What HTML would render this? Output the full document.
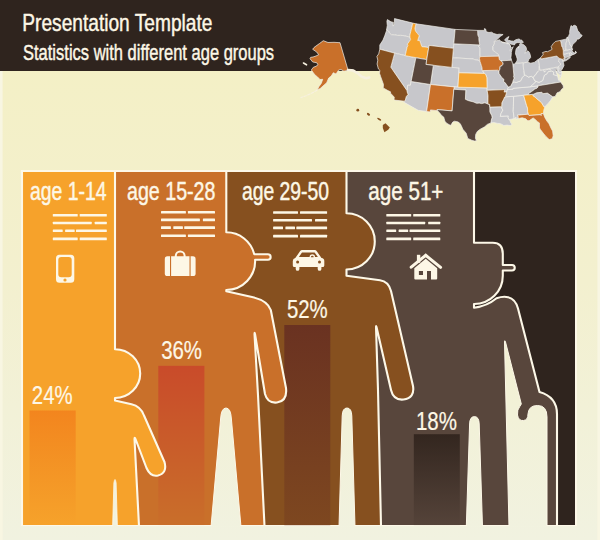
<!DOCTYPE html>
<html><head><meta charset="utf-8"><title>Presentation Template</title>
<style>html,body{margin:0;padding:0;background:#f4f0cc;}body{width:600px;height:540px;overflow:hidden;position:relative;font-family:"Liberation Sans",sans-serif;}</style>
</head><body>
<svg width="600" height="540" viewBox="0 0 600 540" style="display:block;position:absolute;left:0;top:0">
<defs>
<linearGradient id="bg" gradientUnits="userSpaceOnUse" x1="0" y1="71" x2="0" y2="540">
<stop offset="0" stop-color="#f4f0c6"/><stop offset="0.45" stop-color="#f3f0cf"/><stop offset="1" stop-color="#f1f2e0"/>
</linearGradient>
<linearGradient id="b1" x1="0" y1="0" x2="0" y2="1"><stop offset="0" stop-color="#f3851e"/><stop offset="1" stop-color="#f0871f" stop-opacity="0"/></linearGradient>
<linearGradient id="b2" x1="0" y1="0" x2="0" y2="1"><stop offset="0" stop-color="#c94b2a"/><stop offset="1" stop-color="#c94b2a" stop-opacity="0.04"/></linearGradient>
<linearGradient id="b3" x1="0" y1="0" x2="0" y2="1"><stop offset="0" stop-color="#6a3221"/><stop offset="1" stop-color="#6a3221" stop-opacity="0.3"/></linearGradient>
<linearGradient id="b4" x1="0" y1="0" x2="0" y2="1"><stop offset="0" stop-color="#33261f"/><stop offset="1" stop-color="#33261f" stop-opacity="0.08"/></linearGradient>
</defs>
<rect width="600" height="540" fill="url(#bg)"/>
<rect width="600" height="71" fill="#2f241e"/>

<rect x="22" y="171" width="554" height="355" fill="#2f241e" stroke="#fdf8e8" stroke-width="2"/>
<path d="M22,171 H474 V242.8 H492.8 Q502.8,242.8 502.8,253.7 V265 H512 A2.75,2.75 0 0 1 512,270.5 H502.8 V275.7 A28.6,28.3 0 0 1 474,304 V307.8 Q487,306.2 496.5,298.3 Q503,296 508,297.2 Q515.5,299 518,308.5 L539.5,392 Q557,397 557,414 V526 H22 Z" fill="#58463c" stroke="#fdf8e8" stroke-width="2.1" stroke-linejoin="round"/>
<path d="M509,527 L504.5,342 Q504.6,339.5 505.5,342 L521.3,404 L519.8,406.5 Q517,409.5 517.5,415 Q518.5,421 523.5,420.5 Q528,420 528,414 Q528.5,405.5 537.5,405.5 Q547,405.5 547,417 V527 Z" fill="url(#bg)" stroke="#fdf8e8" stroke-width="1"/>
<path d="M466.3,527 L469.6,424 Q469.8,416.6 474.4,416.6 Q479,416.6 479.2,424 L482.5,527 Z" fill="url(#bg)" stroke="#fdf8e8" stroke-width="1"/>
<rect x="413.8" y="434.2" width="46" height="91.3" fill="url(#b4)"/>
<path d="M22,171 H346.5 V213.3 A28.3,28.1 0 0 1 346.5,269.5 V275.8 L380,280.3 Q388.5,281.5 391,291 L413,386 Q415,398 403.5,399.5 Q393.5,400.5 391,390 L376.5,327 Q376,325 376,327 L378,390 L381,526 H22 Z" fill="#86501f" stroke="#fdf8e8" stroke-width="2.1" stroke-linejoin="round"/>
<path d="M339,527 L342.2,416 Q342.4,408 347,408 Q351.6,408 351.8,416 L355,527 Z" fill="url(#bg)" stroke="#fdf8e8" stroke-width="1"/>
<rect x="284.3" y="325" width="46" height="200.5" fill="url(#b3)"/>
<path d="M22,171 H226.3 V232.3 A28.85,28.85 0 0 1 254.3,254.3 H267.9 A2.75,2.75 0 0 1 267.9,259.8 H255.1 A28.85,28.85 0 0 1 226.3,290 V291.3 L252,297 Q267.5,300.5 270.8,310 L286,388 Q287.5,401 277,402.5 Q267.5,403.5 265,394 L255,334 Q254.5,331.5 254.5,334 L258,395 L264.5,526 H22 Z" fill="#c9702a" stroke="#fdf8e8" stroke-width="2.1" stroke-linejoin="round"/>
<path d="M211,527 L220.6,419 Q221.2,408 226,408 Q230.8,408 231.4,419 L241,527 Z" fill="url(#bg)" stroke="#fdf8e8" stroke-width="1"/>
<rect x="158.3" y="365.8" width="46.1" height="159.7" fill="url(#b2)"/>
<path d="M22,171 H115 V349.2 A25.2,24.4 0 0 1 115,398 V400.4 L131.5,404.3 Q140.5,406.3 144,415.5 L164.5,462 Q167.5,473 158,475.5 Q150.5,477 146.5,468 L135.5,439 Q134.5,436.5 134.5,439 L139,526 H22 Z" fill="#f6a22b" stroke="#fdf8e8" stroke-width="2.1" stroke-linejoin="round"/>
<path d="M112.6,527 L113.9,483 Q115,476 116.1,483 L117.4,527 Z" fill="url(#bg)" stroke="#fdf8e8" stroke-width="0.8"/>
<rect x="29.5" y="410.5" width="46.2" height="115" fill="url(#b1)"/>
<rect x="0" y="526.1" width="600" height="16" fill="url(#bg)"/>
<rect x="0" y="71" width="2.6" height="470" fill="#f8f6e2"/><rect x="597.4" y="71" width="2.6" height="470" fill="#f8f6e2"/>
<g font-family="Liberation Sans, sans-serif" fill="#fdf7e6" stroke="#fdf7e6" stroke-linejoin="round">
<text x="22.32" y="31.20" font-size="24.5" textLength="190.07" lengthAdjust="spacingAndGlyphs" stroke-width="0.45">Presentation Template</text>
<text x="23.01" y="59.60" font-size="22.5" textLength="251.13" lengthAdjust="spacingAndGlyphs" stroke-width="0.45">Statistics with different age groups</text>
<text x="29.93" y="200.00" font-size="25" textLength="76.66" lengthAdjust="spacingAndGlyphs" stroke-width="0.45">age 1-14</text>
<text x="127.01" y="200.00" font-size="25" textLength="88.44" lengthAdjust="spacingAndGlyphs" stroke-width="0.45">age 15-28</text>
<text x="241.94" y="199.90" font-size="25" textLength="87.10" lengthAdjust="spacingAndGlyphs" stroke-width="0.45">age 29-50</text>
<text x="368.28" y="200.00" font-size="25" textLength="75.15" lengthAdjust="spacingAndGlyphs" stroke-width="0.45">age 51+</text>
<text x="31.83" y="403.70" font-size="25" textLength="40.83" lengthAdjust="spacingAndGlyphs" stroke-width="0.2">24%</text>
<text x="161.13" y="359.30" font-size="25" textLength="40.82" lengthAdjust="spacingAndGlyphs" stroke-width="0.2">36%</text>
<text x="286.89" y="317.70" font-size="25" textLength="40.86" lengthAdjust="spacingAndGlyphs" stroke-width="0.2">52%</text>
<text x="415.89" y="429.60" font-size="25" textLength="41.02" lengthAdjust="spacingAndGlyphs" stroke-width="0.2">18%</text>
</g>
<g fill="#fdf7e6"><rect x="52.8" y="214.0" width="24.9" height="2.6" rx="0.5"/><rect x="79.7" y="214.0" width="27.1" height="2.6" rx="0.5"/><rect x="52.8" y="221.7" width="38.9" height="2.6" rx="0.5"/><rect x="94.7" y="221.7" width="12.1" height="2.6" rx="0.5"/><rect x="52.8" y="229.4" width="9.9" height="2.6" rx="0.5"/><rect x="65.1" y="229.4" width="9.6" height="2.6" rx="0.5"/><rect x="76.0" y="229.4" width="30.8" height="2.6" rx="0.5"/><rect x="52.8" y="237.6" width="24.9" height="2.6" rx="0.5"/><rect x="79.7" y="237.6" width="27.1" height="2.6" rx="0.5"/></g>
<g fill="#fdf7e6"><rect x="161.0" y="210.9" width="24.9" height="2.6" rx="0.5"/><rect x="187.9" y="210.9" width="27.1" height="2.6" rx="0.5"/><rect x="161.0" y="218.6" width="38.9" height="2.6" rx="0.5"/><rect x="202.9" y="218.6" width="12.1" height="2.6" rx="0.5"/><rect x="161.0" y="226.3" width="9.9" height="2.6" rx="0.5"/><rect x="173.3" y="226.3" width="9.6" height="2.6" rx="0.5"/><rect x="184.2" y="226.3" width="30.8" height="2.6" rx="0.5"/><rect x="161.0" y="234.5" width="24.9" height="2.6" rx="0.5"/><rect x="187.9" y="234.5" width="27.1" height="2.6" rx="0.5"/></g>
<g fill="#fdf7e6"><rect x="273.1" y="211.2" width="24.9" height="2.6" rx="0.5"/><rect x="300.0" y="211.2" width="27.1" height="2.6" rx="0.5"/><rect x="273.1" y="218.9" width="38.9" height="2.6" rx="0.5"/><rect x="315.0" y="218.9" width="12.1" height="2.6" rx="0.5"/><rect x="273.1" y="226.6" width="9.9" height="2.6" rx="0.5"/><rect x="285.4" y="226.6" width="9.6" height="2.6" rx="0.5"/><rect x="296.3" y="226.6" width="30.8" height="2.6" rx="0.5"/><rect x="273.1" y="234.8" width="24.9" height="2.6" rx="0.5"/><rect x="300.0" y="234.8" width="27.1" height="2.6" rx="0.5"/></g>
<g fill="#fdf7e6"><rect x="386.3" y="214.0" width="24.9" height="2.6" rx="0.5"/><rect x="413.2" y="214.0" width="27.1" height="2.6" rx="0.5"/><rect x="386.3" y="221.7" width="38.9" height="2.6" rx="0.5"/><rect x="428.2" y="221.7" width="12.1" height="2.6" rx="0.5"/><rect x="386.3" y="229.4" width="9.9" height="2.6" rx="0.5"/><rect x="398.6" y="229.4" width="9.6" height="2.6" rx="0.5"/><rect x="409.5" y="229.4" width="30.8" height="2.6" rx="0.5"/><rect x="386.3" y="237.6" width="24.9" height="2.6" rx="0.5"/><rect x="413.2" y="237.6" width="27.1" height="2.6" rx="0.5"/></g>
<path fill="#fdf7e6" fill-rule="evenodd" d="M59.5,254.7 H70.8 A3.5,3.5 0 0 1 74.3,258.2 V279.3 A3.5,3.5 0 0 1 70.8,282.8 H59.5 A3.5,3.5 0 0 1 56,279.3 V258.2 A3.5,3.5 0 0 1 59.5,254.7 Z M61.3,256.9 A3,3 0 0 0 58.3,259.9 V274.3 A3,3 0 0 0 61.3,277.3 H68.7 A3,3 0 0 0 71.7,274.3 V259.9 A3,3 0 0 0 68.7,256.9 Z"/>
<circle cx="65" cy="280" r="1.6" fill="#f6a22b"/>
<rect x="164.8" y="256.3" width="30.8" height="19.7" rx="2.6" fill="#fdf7e6"/>
<rect x="170" y="256" width="1.1" height="20.3" fill="#c9702a"/><rect x="189.5" y="256" width="1.1" height="20.3" fill="#c9702a"/>
<path d="M175.8,257 V255.8 A4.4,4.4 0 0 1 184.6,255.8 V257" fill="none" stroke="#fdf7e6" stroke-width="2"/>
<path fill="#fdf7e6" d="M295.3,258.1 L300,251.2 Q300.8,250 302.2,250 H314.6 Q316,250 316.8,251.2 L321.5,258.1 Q324.3,258.6 324.3,261 V265.5 Q324.3,267 322.8,267 H321.4 V269 A1.85,1.85 0 0 1 317.7,269 V267 H299.4 V269 A1.85,1.85 0 0 1 295.7,269 V267 H294.3 Q292.8,267 292.8,265.5 V261 Q292.8,258.6 295.3,258.1 Z"/>
<path fill="#86501f" d="M298.9,257 L302,252.4 H314.6 L317.9,257 H315 A2.7,2.7 0 0 0 309.6,257 Z"/>
<path d="M310.9,257.2 A1.4,1.4 0 0 1 313.7,257.2 Z" fill="#86501f"/>
<circle cx="297.6" cy="262" r="1.5" fill="#86501f"/><circle cx="319.5" cy="262" r="1.5" fill="#86501f"/>
<path d="M411.2,267.2 L425.7,255.3 L440.6,267.4" fill="none" stroke="#fdf7e6" stroke-width="3" stroke-linecap="round" stroke-linejoin="miter"/>
<rect x="416.9" y="254.8" width="3.4" height="8" fill="#fdf7e6"/>
<path fill="#fdf7e6" fill-rule="evenodd" d="M414.3,268.2 L425.7,258.8 L437.2,268.2 V278.6 Q437.2,279.6 436.2,279.6 H431 V271 H427 V279.6 H415.3 Q414.3,279.6 414.3,278.6 Z M418.9,270.9 H423 V275 H418.9 Z"/>
<g stroke="#f0efea" stroke-width="0.7" stroke-linejoin="round">
<path d="M387.4,19.6 L390.9,21.8 L393.4,22.4 L393.1,26.1 L394.3,23.9 L394.5,18.6 L412.8,23.1 L409.9,35.1 L409.9,37.1 L402.9,35.5 L400.8,35.4 L397.2,35.4 L394.2,34.8 L391.3,34.7 L389.7,33.5 L388.5,31.0 L386.6,29.9 L386.9,27.8 L387.3,25.4 L386.9,21.3Z" fill="#c7c7cb"/>
<path d="M386.6,29.9 L388.5,31.0 L389.7,33.5 L391.3,34.7 L394.2,34.8 L397.2,35.4 L400.8,35.4 L402.9,35.5 L409.9,37.1 L410.6,39.6 L409.1,41.8 L407.3,44.1 L407.9,45.4 L407.1,47.2 L405.2,55.7 L379.8,49.2 L379.8,45.0 L383.0,40.1 L384.8,35.6 L386.7,30.2Z" fill="#c7c7cb"/>
<path d="M394.6,53.2 L415.9,57.8 L411.1,81.5 L410.4,85.2 L407.7,85.2 L407.5,85.7 L407.3,89.9 L406.9,90.5 L390.8,67.2Z" fill="#c7c7cb"/>
<path d="M428.7,47.9 L427.1,47.3 L424.4,46.9 L421.9,46.7 L420.8,43.8 L419.7,40.5 L417.7,40.6 L419.2,35.8 L417.6,33.7 L415.5,31.2 L414.9,28.5 L416.0,23.8 L455.1,29.4 L453.4,48.3 L429.1,45.4Z" fill="#c7c7cb"/>
<path d="M433.3,65.4 L459.2,67.9 L457.9,87.2 L430.5,84.5Z" fill="#c7c7cb"/>
<path d="M411.1,81.5 L430.5,84.5 L426.6,111.5 L418.2,110.3 L403.7,102.1 L404.4,101.2 L405.4,100.0 L406.2,96.7 L408.2,94.3 L407.5,93.3 L406.9,90.5 L407.3,89.9 L407.5,85.7 L407.7,85.2 L410.4,85.2 L411.1,81.5Z" fill="#c7c7cb"/>
<path d="M453.8,43.8 L479.7,44.9 L478.7,46.6 L480.1,48.0 L480.0,56.6 L479.5,58.5 L480.0,61.4 L478.0,60.1 L474.8,59.7 L472.6,58.9 L452.6,57.8Z" fill="#c7c7cb"/>
<path d="M452.6,57.8 L472.6,58.9 L474.8,59.7 L478.0,60.1 L480.0,61.4 L481.3,65.3 L482.0,67.7 L482.2,70.1 L482.5,70.6 L484.3,73.4 L458.9,72.8 L459.2,67.9 L451.8,67.4Z" fill="#c7c7cb"/>
<path d="M454.2,86.9 L487.1,87.9 L487.1,90.3 L488.0,95.6 L487.9,104.0 L487.9,104.0 L484.9,102.8 L481.7,103.6 L479.2,103.1 L476.7,103.3 L474.7,102.5 L473.1,101.8 L468.6,100.7 L465.4,99.3 L465.8,90.0 L454.0,89.3Z" fill="#c7c7cb"/>
<path d="M479.7,44.9 L478.9,40.4 L478.8,37.5 L477.8,35.1 L477.6,30.4 L484.5,30.4 L484.4,28.6 L485.6,29.0 L486.3,31.8 L489.0,32.5 L491.6,32.2 L493.7,33.5 L497.1,34.5 L499.2,34.2 L503.1,34.5 L500.2,36.5 L497.0,39.6 L495.0,40.8 L494.3,41.3 L494.4,44.0 L493.0,46.4 L493.1,50.4 L495.8,52.3 L498.6,54.5 L498.8,56.2 L480.0,56.6 L480.1,48.0 L478.7,46.6 L479.7,44.9Z" fill="#c7c7cb"/>
<path d="M482.5,70.6 L497.6,70.2 L498.9,71.1 L499.0,73.4 L500.5,75.6 L501.9,77.7 L504.0,79.4 L503.5,81.5 L505.3,82.8 L507.0,85.6 L508.6,87.0 L507.4,89.5 L506.7,91.9 L504.1,92.1 L504.8,89.6 L487.1,90.3 L486.9,77.8 L485.8,74.6 L484.3,73.4 L482.5,70.6Z" fill="#c7c7cb"/>
<path d="M489.8,107.1 L501.7,106.7 L502.1,109.1 L503.0,110.0 L501.0,113.4 L500.3,116.3 L508.3,115.9 L508.1,117.8 L509.1,119.7 L510.0,120.4 L510.6,122.5 L512.0,124.3 L510.4,125.6 L507.3,125.1 L503.8,125.5 L502.0,124.4 L499.8,123.5 L497.7,123.4 L493.7,122.5 L490.9,122.9 L491.3,120.0 L492.1,117.6 L491.8,115.7 L489.9,111.9 L489.8,107.1Z" fill="#c7c7cb"/>
<path d="M504.7,96.9 L513.1,96.3 L513.6,96.8 L513.4,106.4 L513.2,111.2 L514.2,118.6 L509.1,119.7 L508.1,117.8 L508.3,115.9 L500.3,116.3 L501.0,113.4 L503.0,110.0 L502.1,109.1 L501.7,106.7 L501.8,104.7 L501.9,102.8 L503.7,99.2Z" fill="#c7c7cb"/>
<path d="M513.1,96.3 L523.6,95.3 L526.5,105.3 L527.5,108.0 L527.7,111.6 L528.3,114.2 L517.3,115.2 L518.3,116.8 L518.0,118.6 L515.9,119.1 L516.0,117.0 L515.4,118.3 L514.2,118.6 L513.2,111.2 L513.4,106.4 L513.6,96.8Z" fill="#c7c7cb"/>
<path d="M544.9,107.0 L543.8,106.8 L541.5,102.8 L539.2,100.8 L538.1,99.9 L535.0,97.1 L532.8,95.7 L533.6,94.2 L533.6,94.2 L536.6,92.8 L541.6,92.3 L542.1,92.5 L542.9,93.7 L547.4,93.1 L552.8,96.8 L550.7,100.3 L548.3,103.2 L546.3,105.2Z" fill="#c7c7cb"/>
<path d="M507.4,89.5 L513.0,89.1 L512.9,88.3 L530.2,86.8 L538.0,85.8 L538.0,87.0 L536.9,88.2 L534.8,89.0 L533.0,90.5 L531.6,91.6 L529.7,92.7 L528.6,93.8 L528.7,94.8 L513.1,96.3 L504.7,96.9 L505.5,96.2 L506.7,91.9Z" fill="#c7c7cb"/>
<path d="M508.6,87.0 L510.7,86.3 L511.3,84.8 L512.5,82.8 L514.2,81.9 L516.2,82.5 L518.5,81.6 L520.4,81.1 L521.2,79.7 L522.3,77.4 L524.3,75.4 L525.5,75.2 L528.4,77.1 L531.4,76.3 L533.2,77.6 L534.8,80.8 L536.2,81.4 L533.0,84.5 L530.2,86.8 L512.9,88.3 L513.0,89.1 L507.4,89.5Z" fill="#c7c7cb"/>
<path d="M560.7,82.0 L538.0,85.8 L530.2,86.8 L533.0,84.5 L536.2,81.4 L539.0,82.4 L542.7,80.6 L544.3,75.3 L547.0,73.7 L548.4,71.4 L550.6,71.3 L550.8,70.3 L551.9,71.2 L553.8,72.1 L553.4,74.6 L555.0,75.0 L557.6,76.0 L558.5,80.2 L559.8,80.3Z" fill="#c7c7cb"/>
<path d="M559.7,79.2 L560.0,75.2 L561.5,74.5 L560.7,77.3Z" fill="#c7c7cb"/>
<path d="M533.2,77.6 L534.6,75.3 L536.0,74.4 L536.5,73.0 L538.7,70.5 L539.0,68.7 L539.0,66.1 L539.3,65.9 L540.0,70.2 L543.9,69.6 L544.4,72.1 L545.7,70.5 L546.7,69.5 L548.7,68.9 L550.2,69.1 L550.8,70.3 L550.8,70.3 L550.6,71.3 L548.4,71.4 L547.0,73.7 L544.3,75.3 L542.7,80.6 L539.0,82.4 L534.8,80.8 L533.2,77.6Z" fill="#c7c7cb"/>
<path d="M543.9,69.6 L557.6,67.0 L559.3,72.9 L561.8,72.4 L561.5,74.5 L560.0,75.2 L558.8,74.3 L556.8,72.2 L556.8,68.8 L555.5,70.0 L556.7,73.7 L557.6,76.0 L555.0,75.0 L553.4,74.6 L553.8,72.1 L551.9,71.2 L550.8,70.3 L550.2,69.1 L548.7,68.9 L546.7,69.5 L545.7,70.5 L544.4,72.1Z" fill="#c7c7cb"/>
<path d="M557.6,67.0 L558.2,66.3 L558.9,66.4 L558.8,68.1 L561.2,70.8 L561.8,72.4 L559.3,72.9Z" fill="#c7c7cb"/>
<path d="M538.2,59.5 L540.7,57.7 L540.9,59.0 L556.8,56.0 L558.3,57.6 L559.8,58.5 L558.7,60.6 L558.8,62.0 L560.9,63.9 L559.9,65.4 L558.9,66.4 L558.2,66.3 L557.6,67.0 L540.0,70.2Z" fill="#c7c7cb"/>
<path d="M559.8,58.5 L563.1,59.5 L563.0,61.3 L563.4,62.2 L564.0,65.5 L563.1,67.4 L561.6,70.1 L558.8,68.1 L558.9,66.4 L559.9,65.4 L560.9,63.9 L558.8,62.0 L558.7,60.6 L559.8,58.5Z" fill="#c7c7cb"/>
<path d="M563.2,61.5 L563.8,60.0 L566.4,58.9 L568.7,57.4 L570.4,57.4 L568.4,59.1 L565.7,60.8Z" fill="#c7c7cb"/>
<path d="M563.3,54.3 L569.4,52.9 L570.1,56.2 L566.4,57.5 L564.0,59.3 L563.6,58.9 L564.3,57.7Z" fill="#c7c7cb"/>
<path d="M569.4,52.9 L570.9,52.6 L572.0,54.1 L572.5,54.8 L570.1,56.2Z" fill="#c7c7cb"/>
<path d="M563.3,50.8 L566.2,50.2 L570.3,49.3 L570.6,49.0 L571.8,48.1 L572.8,48.9 L571.9,50.9 L573.4,52.3 L574.3,52.9 L576.1,52.3 L575.4,51.3 L575.0,51.2 L576.1,51.8 L576.4,52.9 L574.2,54.2 L572.5,54.8 L572.0,54.1 L570.9,52.6 L569.4,52.9 L563.3,54.3Z" fill="#c7c7cb"/>
<path d="M560.4,40.4 L566.7,38.9 L567.0,40.7 L565.9,43.5 L565.9,45.2 L565.7,47.5 L566.2,50.2 L563.3,50.8 L562.5,47.3 L561.9,46.9 L561.0,42.7 L560.4,40.4Z" fill="#c7c7cb"/>
<path d="M566.7,38.9 L566.7,37.6 L567.7,37.1 L570.3,45.0 L571.9,47.1 L571.8,48.1 L570.6,49.0 L570.3,49.3 L566.2,50.2 L565.7,47.5 L565.9,45.2 L565.9,43.5 L567.0,40.7 L566.7,38.9Z" fill="#c7c7cb"/>
<path d="M567.7,37.1 L568.5,36.4 L569.7,33.4 L569.7,31.1 L571.0,25.6 L572.4,26.5 L574.1,25.2 L576.2,26.0 L577.9,31.1 L579.5,32.4 L579.9,33.8 L580.6,34.3 L582.2,35.5 L580.6,37.5 L578.8,39.0 L576.7,39.2 L576.2,41.3 L574.1,43.1 L573.0,44.2 L572.2,45.9 L571.9,47.1 L570.3,45.0Z" fill="#c7c7cb"/>
<path d="M538.2,59.5 L534.3,62.4 L530.7,63.2 L527.7,62.2 L522.8,62.9 L524.3,75.4 L525.5,75.2 L528.4,77.1 L531.4,76.3 L533.2,77.6 L534.6,75.3 L536.0,74.4 L536.5,73.0 L538.7,70.5 L539.0,68.7 L539.0,66.1 L539.3,65.9Z" fill="#c7c7cb"/>
<path d="M522.8,62.9 L522.8,62.6 L515.4,63.4 L514.1,64.2 L512.8,63.9 L513.9,75.2 L513.5,76.4 L514.2,78.1 L513.4,79.8 L512.8,81.8 L512.5,82.8 L514.2,81.9 L516.2,82.5 L518.5,81.6 L520.4,81.1 L521.2,79.7 L522.3,77.4 L524.3,75.4Z" fill="#c7c7cb"/>
<path d="M527.7,62.2 L522.8,62.9 L522.8,62.6 L515.4,63.4 L516.4,61.7 L517.3,60.1 L517.1,58.4 L516.4,56.2 L515.6,54.0 L515.5,52.8 L516.0,49.5 L516.6,48.2 L518.2,46.6 L518.5,48.2 L518.6,46.3 L519.9,45.4 L519.5,44.3 L520.6,43.5 L522.2,43.9 L523.7,44.7 L525.6,46.4 L526.3,48.0 L526.6,49.9 L525.8,51.2 L524.9,53.3 L526.5,51.8 L527.9,50.8 L529.4,52.4 L530.5,55.7 L530.6,57.6 L529.3,59.0 L528.8,59.2 L528.6,60.5Z" fill="#c7c7cb"/>
<path d="M500.8,41.5 L501.9,42.4 L505.4,43.2 L506.5,43.6 L508.8,43.8 L509.9,44.9 L510.4,46.3 L511.1,47.7 L504.5,39.8 L507.1,37.5 L509.0,36.6 L508.1,38.4 L507.4,39.9 L511.1,41.0 L513.7,41.2 L515.9,39.7 L519.3,38.9 L520.7,40.3 L521.5,39.9 L522.6,41.3 L523.4,42.3 L520.7,43.1 L517.9,42.5 L515.3,43.2 L514.5,45.0 L512.7,44.5Z" fill="#c7c7cb"/>
<path d="M494.3,41.3 L495.3,41.1 L498.7,40.0 L499.5,39.7 L500.8,41.5 L501.9,42.4 L505.4,43.2 L506.5,43.6 L508.8,43.8 L509.9,44.9 L510.4,46.3 L511.1,47.7 L509.9,50.5 L512.0,48.6 L513.2,46.6 L512.1,49.3 L511.7,50.8 L511.3,52.5 L511.3,54.2 L510.9,57.6 L511.5,60.2 L501.1,60.9 L499.4,59.8 L498.8,56.2 L498.6,54.5 L495.8,52.3 L493.1,50.4 L493.0,46.4 L494.4,44.0 L494.3,41.3Z" fill="#c7c7cb"/>
<path d="M379.8,49.2 L394.6,53.2 L390.8,67.2 L406.9,90.5 L407.5,93.3 L408.2,94.3 L406.2,96.7 L405.4,100.0 L404.4,101.2 L394.4,100.1 L394.0,99.2 L394.3,97.2 L390.6,93.2 L390.5,91.8 L387.9,90.6 L383.2,87.9 L383.5,84.5 L380.6,76.5 L379.5,73.2 L379.9,70.3 L378.4,68.9 L377.1,64.0 L377.8,60.2 L376.9,56.4 L378.7,53.9Z" fill="#86501f"/>
<path d="M412.8,23.1 L416.0,23.8 L414.9,28.5 L415.5,31.2 L417.6,33.7 L419.2,35.8 L417.7,40.6 L419.7,40.5 L420.8,43.8 L421.9,46.7 L424.4,46.9 L427.1,47.3 L428.7,47.9 L426.7,59.6 L405.2,55.7 L407.1,47.2 L407.9,45.4 L407.3,44.1 L409.1,41.8 L410.6,39.6 L409.9,37.1 L409.9,35.1Z" fill="#f6a22b"/>
<path d="M429.1,45.4 L453.4,48.3 L451.8,67.4 L425.9,64.4Z" fill="#86501f"/>
<path d="M415.9,57.8 L426.7,59.6 L425.9,64.4 L433.3,65.4 L430.5,84.5 L411.1,81.5Z" fill="#58463c"/>
<path d="M430.5,84.5 L454.2,86.9 L454.0,89.3 L453.8,89.3 L452.1,110.9 L437.2,109.6 L437.5,110.7 L430.5,109.9 L430.2,112.0 L426.6,111.5Z" fill="#c9702a"/>
<path d="M455.1,29.4 L477.6,30.4 L477.8,35.1 L478.8,37.5 L478.9,40.4 L479.7,44.9 L453.8,43.8Z" fill="#58463c"/>
<path d="M458.9,72.8 L484.3,73.4 L485.8,74.6 L486.9,77.8 L487.1,87.9 L457.9,87.2Z" fill="#f6a22b"/>
<path d="M453.8,89.3 L465.8,90.0 L465.4,99.3 L468.6,100.7 L473.1,101.8 L474.7,102.5 L476.7,103.3 L479.2,103.1 L481.7,103.6 L484.9,102.8 L487.9,104.0 L489.7,104.4 L489.8,107.1 L489.9,111.9 L491.8,115.7 L492.1,117.6 L491.3,120.0 L490.9,122.9 L487.3,124.4 L484.7,126.8 L479.9,129.4 L477.3,131.5 L475.7,134.4 L475.4,138.2 L476.5,140.7 L474.4,141.0 L471.7,140.2 L467.8,138.5 L466.2,133.2 L462.8,129.2 L462.0,127.3 L460.4,124.0 L458.4,122.0 L454.6,121.2 L452.8,122.0 L450.8,125.3 L449.9,125.1 L447.0,123.4 L445.0,121.6 L443.7,117.0 L441.7,115.6 L439.5,112.7 L437.5,110.7 L437.2,109.6 L452.1,110.9Z" fill="#58463c"/>
<path d="M480.0,56.6 L498.8,56.2 L499.4,59.8 L501.1,60.9 L503.1,62.7 L503.0,64.2 L502.0,65.7 L500.0,66.5 L499.9,69.1 L498.9,71.1 L497.6,70.2 L482.5,70.6 L482.2,70.1 L482.0,67.7 L481.3,65.3 L480.0,61.4 L479.5,58.5 L480.0,56.6Z" fill="#c9702a"/>
<path d="M487.1,90.3 L504.8,89.6 L504.1,92.1 L506.7,91.9 L505.5,96.2 L504.7,96.9 L503.7,99.2 L501.9,102.8 L501.8,104.7 L501.7,106.7 L489.8,107.1 L489.7,104.4 L487.9,104.0 L488.0,95.6 L487.1,90.3Z" fill="#86501f"/>
<path d="M523.6,95.3 L533.6,94.2 L532.8,95.7 L535.0,97.1 L538.1,99.9 L539.2,100.8 L541.5,102.8 L543.8,106.8 L544.9,107.0 L543.9,109.7 L543.4,113.5 L541.1,113.7 L541.2,115.6 L540.4,114.7 L529.0,115.5 L528.3,114.2 L527.7,111.6 L527.5,108.0 L526.5,105.3Z" fill="#f6a22b"/>
<path d="M517.3,115.2 L528.3,114.2 L529.0,115.5 L540.4,114.7 L541.2,115.6 L541.1,113.7 L543.4,113.5 L543.9,115.0 L545.0,117.8 L547.1,121.3 L549.0,123.7 L550.9,127.9 L552.6,131.0 L553.2,135.8 L552.3,138.8 L549.2,139.6 L545.9,136.4 L543.7,133.8 L540.4,129.5 L539.5,127.9 L539.4,122.9 L537.5,121.7 L534.9,119.2 L533.1,117.9 L531.5,119.1 L529.1,120.8 L527.3,120.5 L525.8,118.8 L522.2,117.8 L519.3,118.3 L518.0,118.6 L518.3,116.8Z" fill="#c9702a"/>
<path d="M560.7,82.0 L538.0,85.8 L538.0,87.0 L536.9,88.2 L534.8,89.0 L533.0,90.5 L531.6,91.6 L529.7,92.7 L528.6,93.8 L528.7,94.8 L533.6,94.2 L536.6,92.8 L541.6,92.3 L542.1,92.5 L542.9,93.7 L547.4,93.1 L552.8,96.8 L555.2,96.4 L557.1,92.8 L560.0,91.7 L561.7,89.2 L563.4,87.9 L563.2,85.7Z" fill="#58463c"/>
<path d="M540.7,57.7 L543.3,54.2 L542.4,52.6 L546.0,51.4 L547.5,51.7 L551.2,49.9 L552.1,49.3 L551.1,46.7 L553.4,43.4 L555.1,41.7 L555.7,41.4 L560.4,40.4 L561.0,42.7 L561.9,46.9 L562.5,47.3 L563.3,50.8 L563.3,54.3 L564.3,57.7 L563.6,58.9 L564.0,59.3 L563.4,60.4 L563.1,61.0 L563.1,59.5 L559.8,58.5 L558.3,57.6 L556.8,56.0 L540.9,59.0Z" fill="#86501f"/>
<path d="M501.1,60.9 L511.5,60.2 L512.5,63.2 L512.8,63.9 L513.9,75.2 L513.5,76.4 L514.2,78.1 L513.4,79.8 L512.8,81.8 L512.5,82.8 L511.3,84.8 L510.7,86.3 L508.6,87.0 L507.0,85.6 L505.3,82.8 L503.5,81.5 L504.0,79.4 L501.9,77.7 L500.5,75.6 L499.0,73.4 L498.9,71.1 L498.9,71.1 L499.9,69.1 L500.0,66.5 L502.0,65.7 L503.0,64.2 L503.1,62.7 L501.1,60.9Z" fill="#58463c"/>
<path d="M323.3,40.7 L328.0,42.5 L334.0,42.3 L340.0,42.7 L348.0,70.0 L344.0,71.3 L341.0,69.5 L338.7,70.0 L336.0,74.0 L333.3,72.7 L331.3,76.0 L328.7,78.0 L326.7,82.7 L323.0,86.0 L320.0,88.7 L317.3,89.5 L319.0,86.5 L321.3,83.3 L322.7,79.3 L320.0,79.5 L317.3,76.7 L315.0,75.0 L313.3,72.7 L311.3,70.0 L313.3,67.3 L316.0,66.3 L318.0,64.7 L316.7,62.7 L312.7,62.0 L310.0,58.7 L310.7,57.3 L313.0,57.0 L316.0,56.0 L318.7,54.7 L316.7,52.0 L312.7,49.3 L314.0,47.5 L316.0,46.0 L319.5,43.5 Z" fill="#c9702a"/>
<path d="M348,70 L353,70.5 L357.5,73 L361.5,76.5 L366,78.3 L369.3,77.5" fill="none" stroke="#f6f0df" stroke-width="2.6" stroke-linecap="round" stroke-dasharray="3.2 0.9"/>
<path d="M317,90.3 L312,93 L306,95.8 L301,97.6" fill="none" stroke="#f7f1e0" stroke-width="1.1" stroke-linecap="round" stroke-dasharray="2.5 1.5"/>
<path d="M303.5,63 L306.5,64.8" fill="none" stroke="#f7f1e0" stroke-width="1.6" stroke-linecap="round"/>
<g stroke="none" fill="#86501f"><circle cx="357.8" cy="110.2" r="1.4"/><ellipse cx="368.5" cy="114.3" rx="1.8" ry="1.1" transform="rotate(35 368.5 114.3)"/><ellipse cx="379.2" cy="119.2" rx="2.3" ry="0.9" transform="rotate(30 379.2 119.2)"/><path d="M382.8,125 L385.5,123.3 L389.8,127.5 L388.2,129.8 L384.4,132.3 L382.8,128 Z"/></g>
</g>
</svg>
</body></html>
